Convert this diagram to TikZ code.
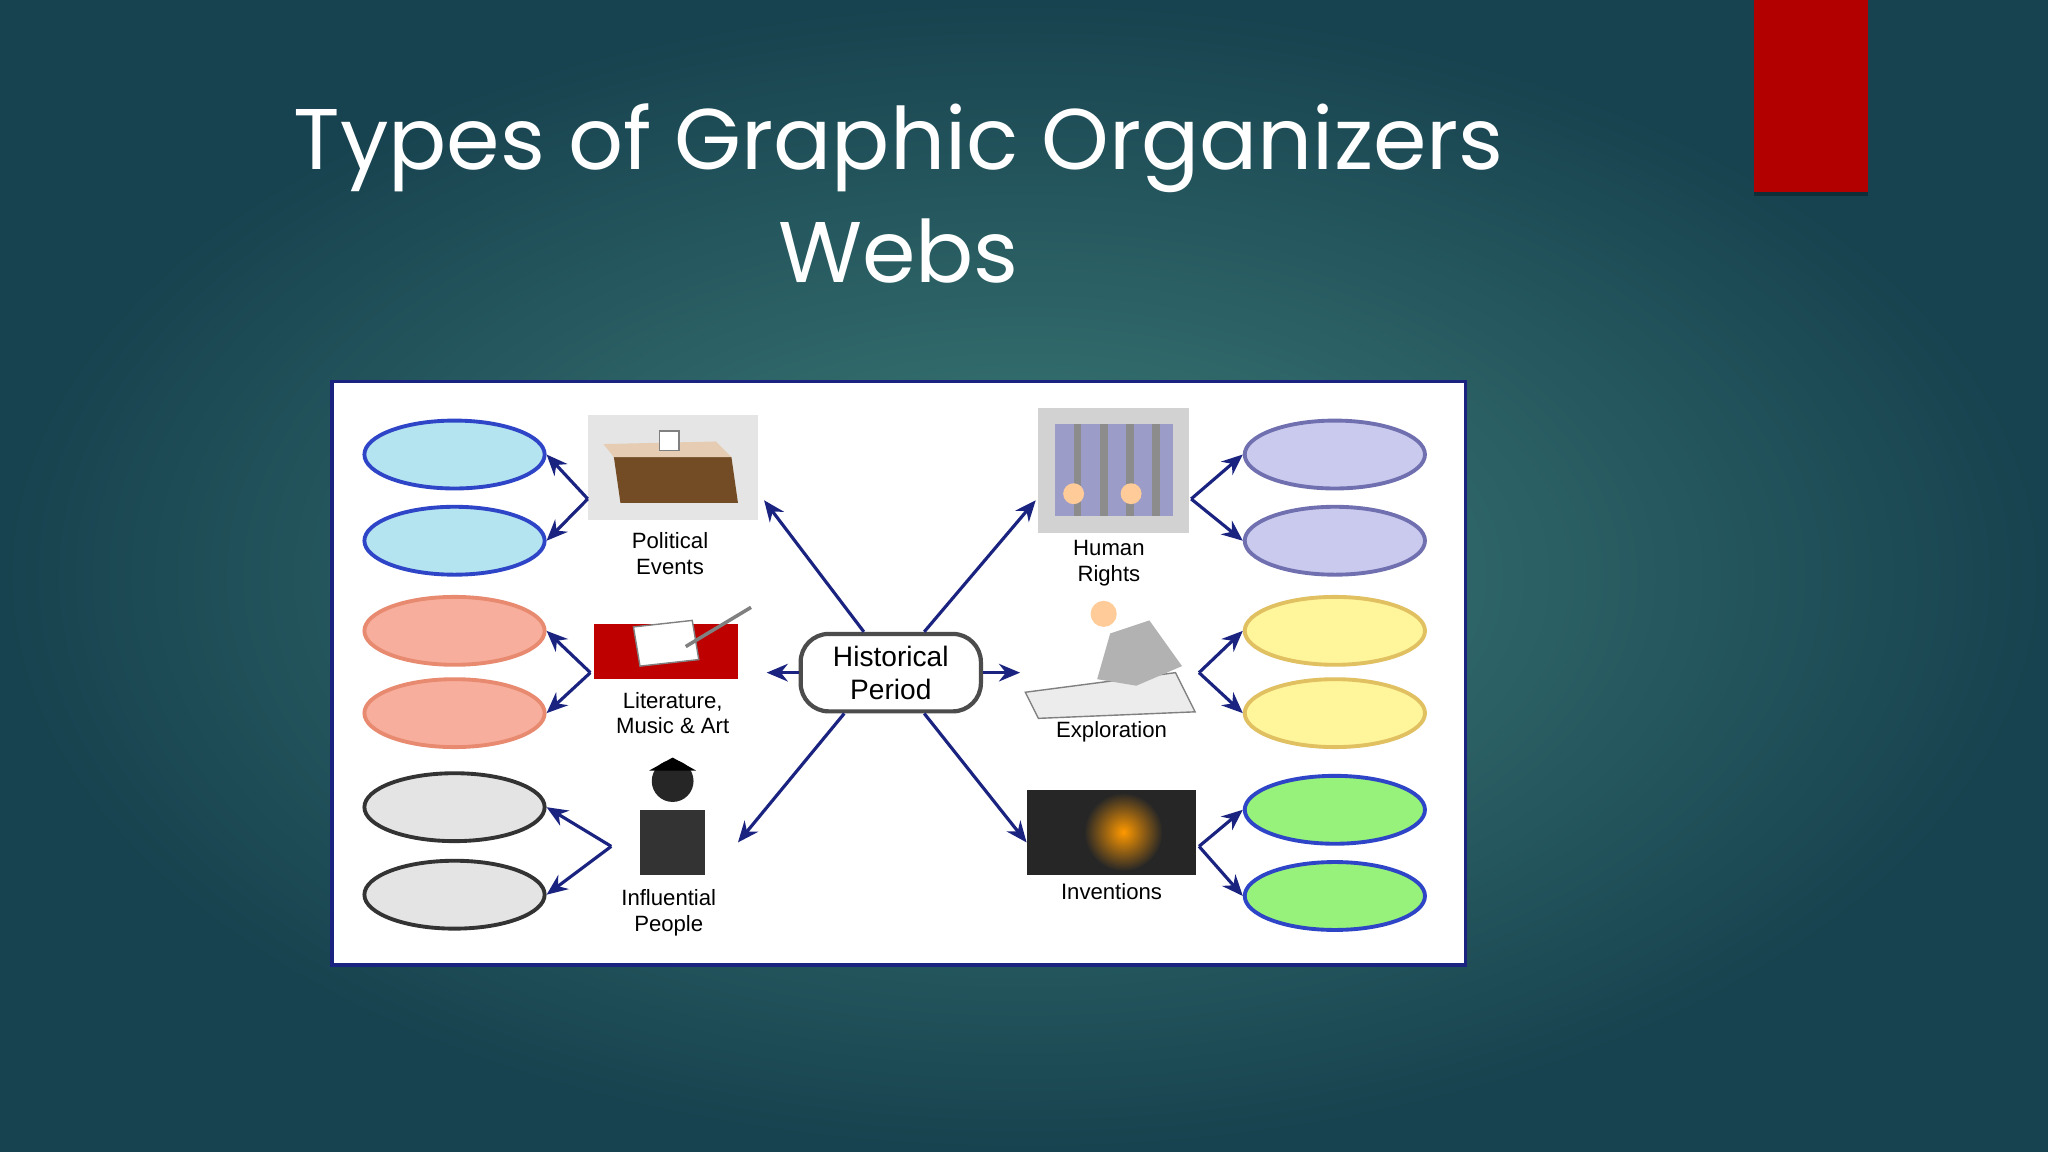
\documentclass[tikz,border=0pt]{standalone}
\usepackage{fontspec}
\setmainfont{Poppins}
\newfontfamily\lab{Liberation Sans}
\usetikzlibrary{arrows.meta,shapes.geometric}
\definecolor{bgin}{HTML}{3F7F7A}
\definecolor{bgout}{HTML}{17424F}
\definecolor{arr}{HTML}{1A2380}
\tikzset{
 ell/.style={ellipse,minimum width=138\pgfxx,minimum height=52\pgfxx,line width=1.1pt},
 ar/.style={arr,line width=0.9pt,-{Stealth[length=6pt,width=5pt]}},
 lbl/.style={font=\lab\fontsize{6.3}{7.3}\selectfont,align=center,text=black},
}
\newdimen\pgfxx \pgfxx=0.01306cm
\begin{document}
\begin{tikzpicture}[x=0.01306cm,y=-0.01306cm]
\useasboundingbox (0,0) rectangle (1568,882);
\shade[inner color=bgin,outer color=bgout] (0,0) rectangle (1568,882);
\fill[red!70!black] (1343,0) rectangle (1430,147);
\fill[black,opacity=.3] (1343,147) rectangle (1430,150);
\node[text=white,font=\fontsize{24.5}{32}\selectfont,align=center] (title) at (688,148) {Types of Graphic Organizers\\Webs};
\node[draw=arr,fill=white,line width=1pt,minimum width=868\pgfxx,minimum height=447\pgfxx,inner sep=0] (panel) at (688,515.5) {};
% ellipses
\foreach \n/\y/\f/\d in {l1/348/B4E4F0/2F45C8,l2/414/B4E4F0/2F45C8,l3/483/F7AE9C/E88A70,l4/546/F7AE9C/E88A70,l5/618/E4E4E4/333333,l6/685/E4E4E4/333333}{
 \definecolor{ff}{HTML}{\f}\definecolor{dd}{HTML}{\d}
 \node[ell,fill=ff,draw=dd] (\n) at (348,\y) {};}
\foreach \n/\y/\f/\d in {r1/348/CACAEE/7070B0,r2/414/CACAEE/7070B0,r3/483/FFF59A/E0C060,r4/546/FFF59A/E0C060,r5/620/96F27A/2F45C8,r6/686/96F27A/2F45C8}{
 \definecolor{ff}{HTML}{\f}\definecolor{dd}{HTML}{\d}
 \node[ell,fill=ff,draw=dd] (\n) at (1022,\y) {};}
% center
\node[draw=black!70,fill=white,rounded corners=8pt,line width=1.2pt,minimum width=138\pgfxx,minimum height=58\pgfxx,font=\lab\fontsize{8}{9.5}\selectfont,align=center] (hp) at (682,515) {Historical\\Period};
% pictures
\fill[gray!20] (450,318) rectangle (580,398);
\fill[brown!60!black] (470,350) -- (560,350) -- (565,385) -- (475,385) -- cycle;
\fill[brown!40] (462,340) -- (548,338) -- (560,350) -- (470,350) -- cycle;
\fill[white,draw=gray] (505,330) rectangle (520,345);
\node[lbl] (pe) at (513,424) {Political\\Events};
\fill[red!75!black] (455,478) rectangle (565,520);
\fill[white,draw=gray] (485,480) -- (530,475) -- (535,505) -- (490,510) -- cycle;
\draw[gray,line width=1pt] (525,495) -- (575,465);
\node[lbl] (lit) at (515,546) {Literature,\\Music \& Art};
\fill[black!80] (490,620) rectangle (540,670);
\fill[black!85] (515,598) circle (16);
\fill[black] (497,590) -- (533,590) -- (515,580) -- cycle;
\node[lbl] (ip) at (512,699) {Influential\\People};
\fill[gray!35] (795,312) rectangle (910,408);
\fill[gray!70!blue!60] (808,325) rectangle (898,395);
\foreach \x in {825,845,865,885} \fill[gray!90] (\x-3,325) rectangle (\x+3,395);
\fill[orange!40] (822,378) circle (8); \fill[orange!40] (866,378) circle (8);
\node[lbl] (hr) at (849,431) {Human\\Rights};
\fill[gray!15,draw=gray] (785,530) -- (900,515) -- (915,545) -- (795,550) -- cycle;
\fill[gray!60] (840,520) -- (850,485) -- (880,475) -- (905,510) -- (870,525) -- cycle;
\fill[orange!40] (845,470) circle (10);
\node[lbl] (ex) at (851,560) {Exploration};
\fill[black!85] (786,605) rectangle (916,670);
\shade[inner color=orange!80!yellow,outer color=black!85] (860,637) circle (30);
\node[lbl] (inv) at (851,683) {Inventions};
% arrows
\coordinate (a1) at (585,383); \coordinate (a2) at (587,515); \coordinate (a3) at (565,645);
\coordinate (a4) at (793,383); \coordinate (a5) at (781,515); \coordinate (a6) at (786,645);
\draw[ar] (hp.north west) ++(50,0) -- (a1);
\draw[ar] (hp.west) -- (a2);
\draw[ar] (hp.south west) ++(35,0) -- (a3);
\draw[ar] (hp.north east) ++(-45,0) -- (a4);
\draw[ar] (hp.east) -- (a5);
\draw[ar] (hp.south east) ++(-45,0) -- (a6);
\coordinate (b1) at (450,382); \coordinate (b2) at (452,515); \coordinate (b3) at (468,648);
\coordinate (b4) at (912,382); \coordinate (b5) at (918,515); \coordinate (b6) at (918,648);
\draw[ar] (b1) -- (l1.east); \draw[ar] (b1) -- (l2.east);
\draw[ar] (b2) -- (l3.east); \draw[ar] (b2) -- (l4.east);
\draw[ar] (b3) -- (l5.east); \draw[ar] (b3) -- (l6.east);
\draw[ar] (b4) -- (r1.west); \draw[ar] (b4) -- (r2.west);
\draw[ar] (b5) -- (r3.west); \draw[ar] (b5) -- (r4.west);
\draw[ar] (b6) -- (r5.west); \draw[ar] (b6) -- (r6.west);
\end{tikzpicture}
\end{document}
